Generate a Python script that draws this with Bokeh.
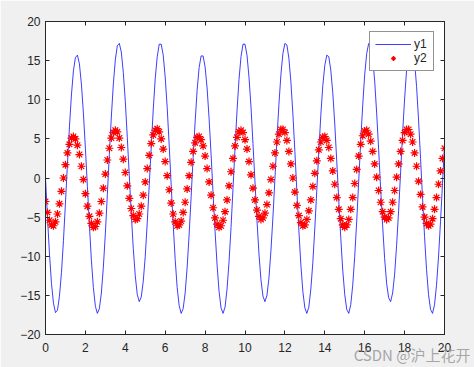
import numpy as np
from bokeh.plotting import figure
from bokeh.models import (Range1d, LinearAxis, FixedTicker, Legend, LegendItem, Title,
                          CustomJSTickFormatter)
from bokeh.embed import file_html
from bokeh.resources import INLINE

# sample positions 0:0.1:20
x = np.round(np.arange(0, 201) * 0.1, 1)

y1 = [
    0.0, -5.1, -9.7, -13.5, -16.0, -17.2, -16.9, -15.1, -12.1, -8.0, -3.2, 1.8, 6.5, 10.6, 13.7, 15.4, 15.7, 14.6, 12.0, 8.3, 3.8,
    -1.1, -6.0, -10.5, -14.0, -16.4, -17.3, -16.7, -14.7, -11.4, -7.1, -2.1, 3.0, 7.8, 12.0, 15.1, 16.9, 17.2, 16.1, 13.5, 9.8, 5.2,
    0.3, -4.6, -9.0, -12.5, -14.9, -15.8, -15.2, -13.2, -10.0, -5.7, -0.9, 4.0, 8.7, 12.7, 15.5, 17.1, 17.1, 15.7, 12.9, 9.0, 4.2,
    -0.9, -5.9, -10.4, -14.0, -16.3, -17.3, -16.7, -14.7, -11.4, -7.2, -2.4, 2.6, 7.2, 11.2, 14.1, 15.6, 15.6, 14.2, 11.5, 7.6, 3.0,
    -2.0, -6.8, -11.1, -14.5, -16.6, -17.3, -16.5, -14.2, -10.7, -6.3, -1.3, 3.8, 8.6, 12.6, 15.5, 17.1, 17.1, 15.7, 12.9, 9.1, 4.4,
    -0.5, -5.4, -9.7, -13.0, -15.1, -15.8, -15.0, -12.8, -9.3, -5.0, -0.1, 4.9, 9.4, 13.2, 15.9, 17.2, 17.0, 15.3, 12.3, 8.2, 3.4,
    -1.7, -6.7, -11.1, -14.5, -16.6, -17.3, -16.5, -14.2, -10.8, -6.4, -1.5, 3.4, 8.0, 11.8, 14.4, 15.7, 15.5, 13.8, 10.9, 6.9, 2.1,
    -2.8, -7.6, -11.8, -14.9, -16.8, -17.3, -16.2, -13.7, -10.0, -5.5, -0.4, 4.7, 9.3, 13.2, 15.9, 17.2, 17.0, 15.3, 12.4, 8.3, 3.6,
    -1.4, -6.1, -10.3, -13.5, -15.3, -15.8, -14.7, -12.3, -8.6, -4.2, 0.8, 5.7, 10.1, 13.8, 16.2, 17.3, 16.8, 14.9, 11.7, 7.4, 2.5,
    -2.6, -7.5, -11.7, -14.9, -16.8, -17.3, -16.2, -13.7, -10.1, -5.6, -0.7, 4.2,
]

y2 = [
    -3.0, -4.4, -5.4, -6.0, -6.1, -5.6, -4.6, -3.3, -1.7, 0.0, 1.7, 3.2, 4.3, 5.1, 5.3, 5.0, 4.2, 3.0, 1.5, -0.2, -2.0,
    -3.6, -4.9, -5.8, -6.3, -6.2, -5.6, -4.5, -3.0, -1.3, 0.5, 2.3, 3.8, 5.1, 5.8, 6.1, 5.9, 5.1, 3.9, 2.4, 0.7, -1.0,
    -2.6, -3.9, -4.8, -5.3, -5.2, -4.6, -3.6, -2.2, -0.5, 1.2, 2.9, 4.4, 5.5, 6.1, 6.3, 5.9, 5.0, 3.7, 2.1, 0.3, -1.5,
    -3.2, -4.6, -5.6, -6.1, -6.0, -5.5, -4.4, -3.1, -1.4, 0.3, 2.0, 3.4, 4.5, 5.2, 5.3, 4.9, 4.1, 2.8, 1.2, -0.5, -2.2,
    -3.8, -5.1, -5.9, -6.3, -6.1, -5.4, -4.3, -2.8, -1.0, 0.8, 2.5, 4.1, 5.2, 5.9, 6.1, 5.8, 4.9, 3.7, 2.1, 0.4, -1.3,
    -2.8, -4.1, -4.9, -5.3, -5.1, -4.5, -3.4, -1.9, -0.2, 1.5, 3.2, 4.6, 5.6, 6.2, 6.2, 5.8, 4.8, 3.4, 1.8, 0.0, -1.8,
    -3.5, -4.8, -5.7, -6.1, -6.0, -5.3, -4.2, -2.8, -1.1, 0.6, 2.2, 3.6, 4.6, 5.2, 5.3, 4.8, 3.9, 2.5, 0.9, -0.8, -2.5,
    -4.0, -5.2, -6.0, -6.3, -6.0, -5.3, -4.0, -2.5, -0.7, 1.1, 2.8, 4.3, 5.4, 6.0, 6.1, 5.6, 4.7, 3.4, 1.8, 0.1, -1.6,
    -3.1, -4.3, -5.0, -5.3, -5.1, -4.3, -3.1, -1.6, 0.1, 1.8, 3.4, 4.8, 5.8, 6.2, 6.2, 5.6, 4.6, 3.2, 1.5, -0.4, -2.1,
    -3.7, -5.0, -5.8, -6.1, -5.9, -5.2, -4.0, -2.5, -0.8, 0.9, 2.5, 3.8,
]

x_ticks = [0, 2, 4, 6, 8, 10, 12, 14, 16, 18, 20]
y_ticks = [-20, -15, -10, -5, 0, 5, 10, 15, 20]
series_labels = ["y1", "y2"]
watermark = "CSDN @沪上花开"

AX = "#262626"
FONT = "Liberation Sans"

p = figure(width=474, height=367, x_range=Range1d(0, 20), y_range=Range1d(-20, 20),
           output_backend="svg", toolbar_location=None,
           min_border_left=45, min_border_right=30, min_border_top=21, min_border_bottom=33)
p.border_fill_color = "#f0f0f0"
p.background_fill_color = "white"
p.outline_line_color = AX
p.outline_line_width = 1
p.grid.visible = False

p.add_layout(LinearAxis(formatter=CustomJSTickFormatter(code="return ''")), "above")
p.add_layout(LinearAxis(formatter=CustomJSTickFormatter(code="return ''")), "right")

for ax in p.xaxis:
    ax.ticker = FixedTicker(ticks=x_ticks)
for ax in p.yaxis:
    ax.ticker = FixedTicker(ticks=y_ticks)
for ax in p.axis:
    ax.axis_line_color = AX
    ax.major_tick_line_color = AX
    ax.major_tick_in = 4
    ax.major_tick_out = 0
    ax.minor_tick_line_color = None
    ax.major_label_text_font = FONT
    ax.major_label_text_font_size = "12px"
    ax.major_label_text_color = AX
p.below[0].major_label_standoff = 8
p.left[0].major_label_standoff = 5

r1 = p.line(x, y1, line_color="#0000ff", line_width=0.9, line_alpha=0.85)
r2 = p.scatter(x, y2, marker="asterisk", size=8, line_color="#ff0000", line_width=1.2)

legend = Legend(items=[LegendItem(label=series_labels[0], renderers=[r1]),
                       LegendItem(label=series_labels[1], renderers=[r2])],
                location="top_right", margin=10, padding=5, spacing=0,
                glyph_width=36, glyph_height=12, label_height=12, label_width=14,
                label_standoff=3,
                label_text_font=FONT, label_text_font_size="12px", label_text_color=AX,
                border_line_color=AX, border_line_width=1,
                background_fill_color="white", background_fill_alpha=1)
p.add_layout(legend)

# watermark, drawn over the bottom tick-label row
p.add_layout(Title(text=watermark, align="right", offset=-26, standoff=-28,
                   vertical_align="middle", text_font="Noto Sans CJK SC",
                   text_font_size="15px", text_font_style="normal",
                   text_color="#8c8c8c", text_alpha=0.75), "below")

open("out.html", "w").write(file_html(p, INLINE))
